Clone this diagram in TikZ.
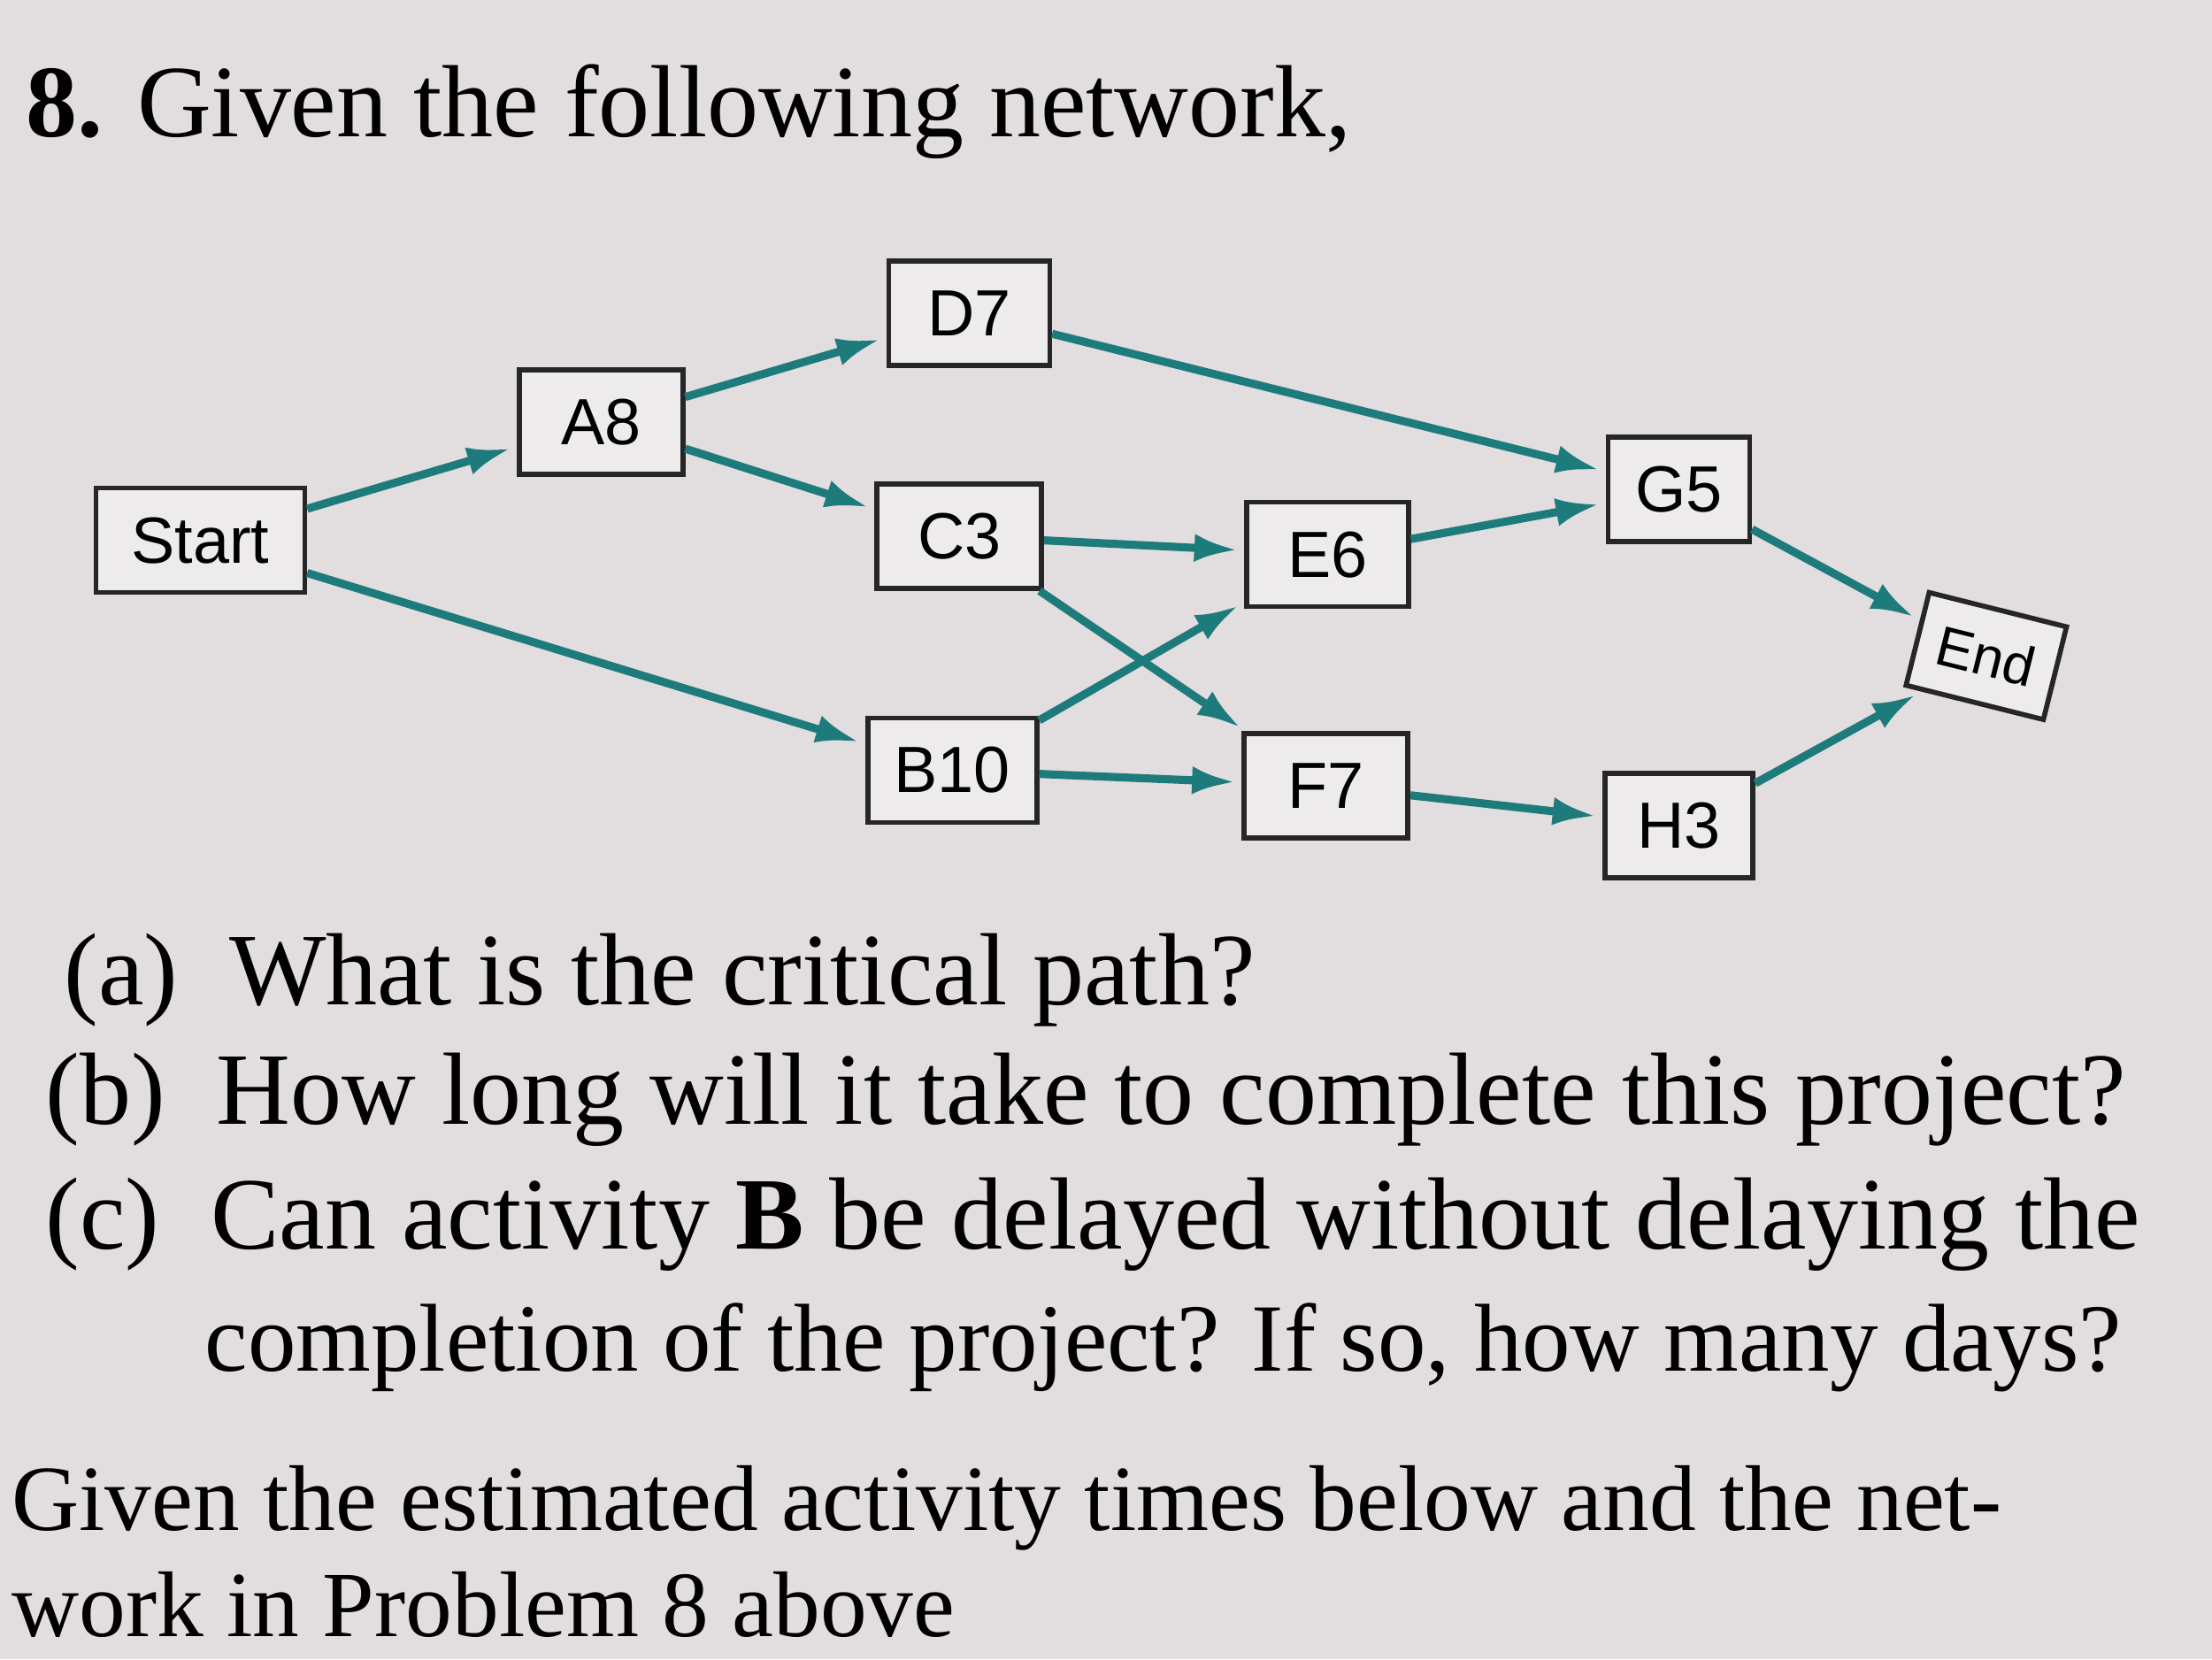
\documentclass[tikz,border=0pt]{standalone}
\usepackage{fontspec}
\setmainfont{Liberation Serif}
\newfontfamily\boxfont{Liberation Sans}
\usetikzlibrary{arrows.meta}
\definecolor{paper}{HTML}{E2DDDF}
\definecolor{teal}{HTML}{1E7B7C}
\begin{document}
\begin{tikzpicture}[x=0.015944cm,y=-0.015944cm,
  act/.style={draw=black!85,line width=1.6pt,fill=paper!60!white,font=\boxfont\fontsize{21}{21}\selectfont,inner sep=0pt,minimum height=1.18cm},
  con/.style={teal,line width=2.6pt,-{Latex[length=14pt,width=9pt]},shorten >=2pt},
  txt/.style={anchor=base west,inner sep=0pt,font=\fontsize{33}{33}\selectfont}]
\fill[paper] (0,0) rectangle (1568,1176);
\useasboundingbox (0,0) rectangle (1568,1176);
\node[act,minimum width=2.36cm] (S) at (142,383) {Start};
\node[act,minimum width=1.85cm] (A) at (426,299) {A8};
\node[act,minimum width=1.82cm] (D) at (687,222) {D7};
\node[act,minimum width=1.86cm] (C) at (680,380) {C3};
\node[act,minimum width=1.91cm] (B) at (675,546) {B10};
\node[act,minimum width=1.83cm] (E) at (941,393) {E6};
\node[act,minimum width=1.85cm] (F) at (940,557) {F7};
\node[act,minimum width=1.6cm] (G) at (1190,347) {G5};
\node[act,minimum width=1.67cm] (H) at (1190,585) {H3};
\node[act,minimum width=1.6cm,minimum height=1.08cm,rotate=-14,font=\boxfont\fontsize{18}{18}\selectfont] (N) at (1408,465) {End};
\draw[con] (S) -- (A);
\draw[con] (S) -- (B);
\draw[con] (A) -- (D);
\draw[con] (A) -- (C);
\draw[con] (D) -- (G);
\draw[con] (C) -- (E);
\draw[con] (C) -- (F);
\draw[con] (B) -- (E);
\draw[con] (B) -- (F);
\draw[con] (E) -- (G);
\draw[con] (F) -- (H);
\draw[con] (G) -- (N);
\draw[con] (H) -- (N);
\node[txt] (t0) at (18,97) {\textbf{8.} Given the following network,};
\node[txt] (t1) at (45,712) {(a)\ \ What is the critical path?};
\node[txt] (t2) at (32,797) {(b)\ \ How long will it take to complete this project?};
\node[txt] (t3) at (32,885) {(c)\ \ Can activity \textbf{B} be delayed without delaying the};
\node[txt,font=\fontsize{31}{31}\selectfont] (t4) at (145,972) {completion of the project? If so, how many days?};
\node[txt,font=\fontsize{30}{30}\selectfont] (t5) at (8,1085) {Given the estimated activity times below and the net-};
\node[txt,font=\fontsize{30}{30}\selectfont] (t6) at (8,1160) {work in Problem 8 above};
\end{tikzpicture}
\end{document}
